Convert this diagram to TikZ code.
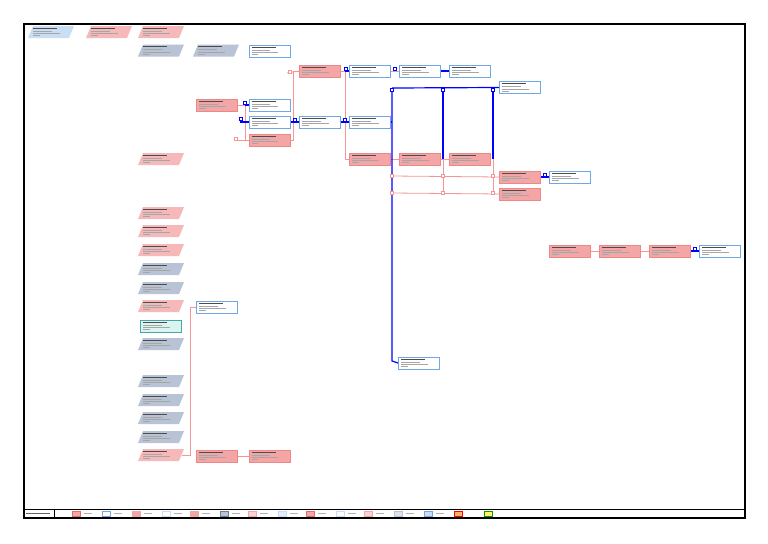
\documentclass[tikz,border=0pt]{standalone}
\usetikzlibrary{calc}
\definecolor{pk}{HTML}{F4A6A6}
\definecolor{pkd}{HTML}{E86A6A}
\definecolor{bl}{HTML}{6FA8E8}
\definecolor{lb}{HTML}{C9DDF5}
\definecolor{gb}{HTML}{B9C3D6}
\definecolor{gbd}{HTML}{6E7C99}
\definecolor{cy}{HTML}{D9F5F2}
\tikzset{
 txt/.style={path picture={
  \draw[black!70,line width=0.5pt] ([xshift=2pt,yshift=-1.5pt]path picture bounding box.north west) -- ++(18pt,0);
  \draw[black!35,line width=0.3pt] ([xshift=2pt,yshift=-3.6pt]path picture bounding box.north west) -- ++(14pt,0);
  \draw[black!35,line width=0.3pt] ([xshift=2pt,yshift=-5.4pt]path picture bounding box.north west) -- ++(20pt,0);
  \draw[black!35,line width=0.3pt] ([xshift=2pt,yshift=-7.2pt]path picture bounding box.north west) -- ++(5pt,0);}},
 base/.style={minimum width=31pt,minimum height=9pt,inner sep=0pt,txt},
 pr/.style={base,draw=pkd!80,fill=pk,line width=0.5pt},
 br/.style={base,draw=bl,fill=white,line width=0.5pt},
 pp/.style={fill=pk!80},
 pb/.style={fill=lb},
 pg/.style={fill=gb},
 cr/.style={base,draw=teal!70,fill=cy,line width=0.5pt},
 pl/.style={draw=pk!90!red,line width=0.6pt},
 bll/.style={draw=blue,line width=0.9pt},
 lgs/.style={minimum width=6pt,minimum height=4pt,inner sep=0pt,line width=0.4pt},
}
\newcommand\pa[4]{\fill[#4] (#2-18,#3-6) -- (#2+23,#3-6) -- (#2+18,#3+6) -- (#2-23,#3+6) -- cycle;
 \node[base] (#1) at (#2,#3) {};}
\begin{document}
\begin{tikzpicture}[x=0.75pt,y=-0.75pt]
\useasboundingbox (0,0) rectangle (768,543);
\fill[white] (0,0) rectangle (768,543);
\draw[line width=0.8pt] (24,24) rectangle (745,518);
\draw[line width=0.5pt] (24,509) -- (745,509);
\draw[line width=0.5pt] (54,509) -- (54,518);
\draw[line width=0.3pt,black!60] (26,513.5) -- (50,513.5);
\foreach \x/\d/\f in {72/pkd/pk,102/bl/white,132/pk/pk,162/lb/white,190/pk/pk,220/gbd/gb,248/pk/pk!50,278/lb/lb!50,306/pkd/pk,336/lb/white,364/pk/pk!50,394/gb/gb!50,424/bl/lb}{
  \node[lgs,draw=\d,fill=\f] (lg\x) at (\x+4,513.5) {};
  \draw[black!30,line width=0.3pt] ($(lg\x.east)+(4,0)$) -- ++(8,0);}
\node[lgs,draw=red,fill=orange!60] (lgo) at (458,513.5) {};
\node[lgs,draw=green!60!black,fill=yellow!60] (lgy) at (488,513.5) {};

\pa{a1}{51}{32}{pb}
\pa{a2}{109}{32}{pp}
\pa{a3}{161}{32}{pp}
\pa{a4}{161}{50.5}{pg}
\pa{a5}{216}{50.5}{pg}
\node[br] (a6) at (269.5,51) {};
\pa{c1}{161}{159}{pp}
\pa{c2}{161}{213}{pp}
\pa{c3}{161}{231}{pp}
\pa{c4}{161}{250}{pp}
\pa{c5}{161}{269}{pg}
\pa{c6}{161}{288}{pg}
\pa{c7}{161}{306}{pp}
\node[cr] (c8) at (161,326) {};
\pa{c9}{161}{344}{pg}
\pa{c10}{161}{381}{pg}
\pa{c11}{161}{400}{pg}
\pa{c12}{161}{418}{pg}
\pa{c13}{161}{437}{pg}
\pa{c14}{161}{455}{pp}

\node[pr] (m1) at (217,105) {};
\node[br] (m2) at (269.5,105) {};
\node[br] (m3) at (269.5,122) {};
\node[pr] (m4) at (269.5,140) {};
\node[pr] (m5) at (320,71) {};
\node[br] (m6) at (320,122) {};
\node[br] (m7) at (370,71) {};
\node[br] (m8) at (370,122) {};
\node[pr] (m9) at (370,159) {};
\node[br] (m10) at (420,71) {};
\node[br] (m11) at (470,71) {};
\node[pr] (m12) at (420,159) {};
\node[pr] (m13) at (470,159) {};
\node[br] (m14) at (520,87.5) {};
\node[pr] (m15) at (520,177) {};
\node[br] (m16) at (570,177) {};
\node[pr] (m17) at (520,194) {};
\node[pr] (r1) at (570,251) {};
\node[pr] (r2) at (620,251) {};
\node[pr] (r3) at (670,251) {};
\node[br] (r4) at (720,251) {};
\node[br] (s1) at (217,307) {};
\node[br] (s2) at (419,363) {};
\node[pr] (s3) at (217,456) {};
\node[pr] (s4) at (269.5,456) {};

\draw[pl] (c14.east) -- (190,455) -- (190,307) -- (s1.west);
\draw[pl] (s3.east) -- (s4.west);
\draw[pl] (m1.east) -- (m2.west);
\draw[pl] (245,105) |- (m4.west);
\draw[pl] (234,140) -- (m4.west);
\draw[pl] (m4.east) -- (293,140) |- (m5.west);
\draw[pl] (287,73) -- (m5.west);
\draw[pl] (m5.east) -- (345,71) |- (m9.west);
\draw[pl] (345,122) -- (m8.west);
\draw[pl] (m7.east) -- (m10.west);
\draw[pl] (m9.east) -- (m12.west);
\draw[pl] (m12.east) -- (m13.west);
\draw[pl] (392,176) -- (m15.west);
\draw[pl] (392,193) -- (m17.west);
\draw[pl] (m15.east) -- (m16.west);
\draw[pl] (r1.east) -- (r2.west);
\draw[pl] (r2.east) -- (r3.west);
\draw[pl] (r3.east) -- (r4.west);
\draw[pl] (443,159) -- (443,193);
\draw[pl] (493,159) -- (493,193);
\draw[bll] (m2.west) -- ++(-4,0);
\draw[bll] (m3.west) -- (241,122) -- (241,118);
\draw[bll] (m3.east) -- (m6.west);
\draw[bll] (m6.east) -- (m8.west);
\draw[bll] (m8.east) -- (392,122);
\draw[bll] (m10.east) -- (m11.west);
\draw[bll] (m7.west) -- ++(-4,0);
\draw[bll] (392,88) -- (m14.west);
\draw[bll] (392,88) -- (392,361) -- (s2.west);
\draw[bll] (443,88) -- (443,159);
\draw[bll] (493,88) -- (493,159);
\draw[bll] (m15.east) -- (m16.west);
\draw[bll] (r3.east) -- (r4.west);
\foreach \p in {(392,90),(443,90),(493,90),(245,103),(241,119),(295,120),(345,120),(395,69),(346,69),(545,175),(695,249)}
  \draw[blue,line width=0.5pt,fill=white] \p ++(-1.5,-1.5) rectangle ++(3,3);
\foreach \p in {(392,176),(392,193),(443,176),(443,193),(493,176),(493,193),(290,72),(236,139)}
  \draw[pk!90!red,line width=0.5pt,fill=white] \p ++(-1.5,-1.5) rectangle ++(3,3);
\end{tikzpicture}
\end{document}
